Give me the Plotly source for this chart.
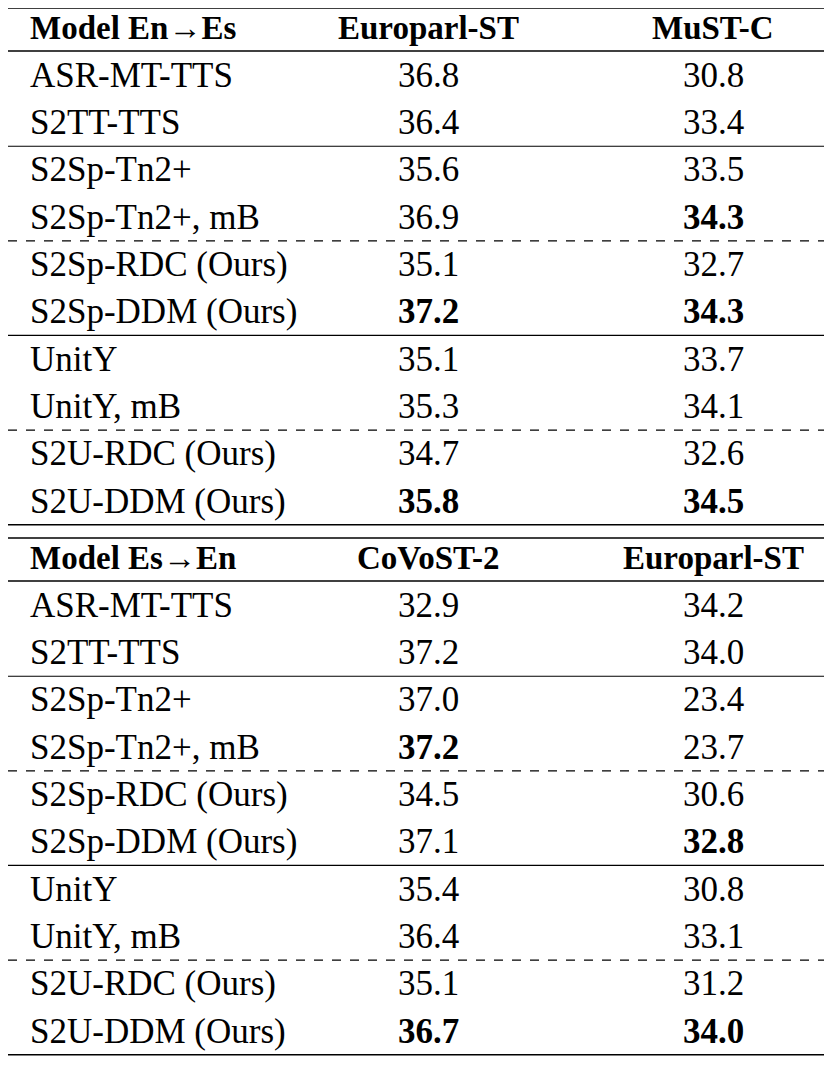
import plotly.graph_objects as go

headers = [["Model En→Es", "Europarl-ST", "MuST-C"], ["Model Es→En", "CoVoST-2", "Europarl-ST"]]
models = ["ASR-MT-TTS", "S2TT-TTS", "S2Sp-Tn2+", "S2Sp-Tn2+, mB", "S2Sp-RDC (Ours)",
          "S2Sp-DDM (Ours)", "UnitY", "UnitY, mB", "S2U-RDC (Ours)", "S2U-DDM (Ours)"]
en_es_c1 = ["36.8", "36.4", "35.6", "36.9", "35.1", "37.2", "35.1", "35.3", "34.7", "35.8"]
en_es_c2 = ["30.8", "33.4", "33.5", "34.3", "32.7", "34.3", "33.7", "34.1", "32.6", "34.5"]
es_en_c1 = ["32.9", "37.2", "37.0", "37.2", "34.5", "37.1", "35.4", "36.4", "35.1", "36.7"]
es_en_c2 = ["34.2", "34.0", "23.4", "23.7", "30.6", "32.8", "30.8", "33.1", "31.2", "34.0"]
bold1 = [[5, 9], [3, 9]]
bold2 = [[3, 5, 9], [5, 9]]
seps = [(1, "solid"), (3, "dash"), (5, "solid"), (7, "dash")]

FONT = "Liberation Serif"
FS = 35
fig = go.Figure()
fig.add_trace(go.Scatter(x=[0, 832], y=[0, 1065], mode="markers", marker=dict(opacity=0), hoverinfo="skip"))
xs = [20, 420, 705]
step = 47.3
blocks = [(22, en_es_c1, en_es_c2), (552, es_en_c1, es_en_c2)]
for b, (y0, c1, c2) in enumerate(blocks):
    yh = y0 - 2
    for j, h in enumerate(headers[b]):
        fig.add_annotation(x=xs[j], y=yh, text=f"<b>{h}</b>", showarrow=False,
                           xanchor="left" if j == 0 else "center", font=dict(size=FS - 2, family=FONT, color="black"))
    top = yh - 20
    fig.add_shape(type="line", x0=0, x1=832, y0=top, y1=top, line=dict(color="black", width=1.5))
    fig.add_shape(type="line", x0=0, x1=832, y0=yh + 23, y1=yh + 23, line=dict(color="black", width=1.5))
    for i, m in enumerate(models):
        y = yh + step * (i + 1)
        fig.add_annotation(x=xs[0], y=y, text=m, showarrow=False, xanchor="left", font=dict(size=FS, family=FONT, color="black"))
        for j, (col, bl) in enumerate([(c1, bold1[b]), (c2, bold2[b])]):
            t = col[i]
            if i in bl:
                t = f"<b>{t}</b>"
            fig.add_annotation(x=xs[j + 1], y=y, text=t, showarrow=False, font=dict(size=FS, family=FONT, color="black"))
    for r, st in seps:
        yl = yh + step * (r + 1.5)
        fig.add_shape(type="line", x0=0, x1=832, y0=yl, y1=yl, line=dict(color="black", width=1.2, dash=st))
    yb = yh + step * 10.5
    fig.add_shape(type="line", x0=0, x1=832, y0=yb, y1=yb, line=dict(color="black", width=1.5))

fig.update_xaxes(range=[0, 832], visible=False)
fig.update_yaxes(range=[1065, 0], visible=False)
fig.update_layout(width=832, height=1065, margin=dict(l=0, r=0, t=0, b=0),
                  plot_bgcolor="white", paper_bgcolor="white", showlegend=False)
fig.write_html("out.html")
